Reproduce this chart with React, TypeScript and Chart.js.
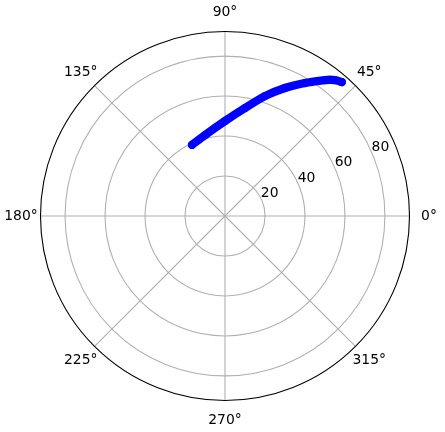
import React, { useEffect, useRef } from "react";
import { Chart, registerables } from "chart.js";

Chart.register(...registerables);

// Polar data (theta in degrees, r in data units)
const thetaDeg = [114.9, 103.9, 90.0, 79.5, 71.6, 64.9, 59.0, 53.7, 51.0, 48.9];
const rValues = [39.2, 41.7, 47.5, 54.9, 63.2, 70.7, 77.6, 84.4, 87.5, 88.9];

const radialTicks = [20, 40, 60, 80];
const angleTicks = [0, 45, 90, 135, 180, 225, 270, 315];
const angleTickLabels = ["0°", "45°", "90°", "135°", "180°", "225°", "270°", "315°"];

const R_MAX = 92.3;
const RLABEL_ANGLE = 22.5;
const FONT = '13.9px "DejaVu Sans"';

const polarGrid = {
  id: "polarGrid",
  beforeDatasetsDraw(chart: any) {
    const { ctx } = chart;
    const xs = chart.scales.x;
    const ys = chart.scales.y;
    const cx = xs.getPixelForValue(0);
    const cy = ys.getPixelForValue(0);
    const k = xs.getPixelForValue(1) - cx;
    const R = R_MAX * k;
    ctx.save();
    ctx.strokeStyle = "#b0b0b0";
    ctx.lineWidth = 1.1;
    for (const t of radialTicks) {
      ctx.beginPath();
      ctx.arc(cx, cy, t * k, 0, Math.PI * 2);
      ctx.stroke();
    }
    for (const a of angleTicks) {
      const rad = (a * Math.PI) / 180;
      ctx.beginPath();
      ctx.moveTo(cx, cy);
      ctx.lineTo(cx + R * Math.cos(rad), cy - R * Math.sin(rad));
      ctx.stroke();
    }
    ctx.restore();
  },
  afterDatasetsDraw(chart: any) {
    const { ctx } = chart;
    const xs = chart.scales.x;
    const ys = chart.scales.y;
    const cx = xs.getPixelForValue(0);
    const cy = ys.getPixelForValue(0);
    const k = xs.getPixelForValue(1) - cx;
    const R = R_MAX * k;
    ctx.save();
    ctx.strokeStyle = "#000000";
    ctx.lineWidth = 1.1;
    ctx.beginPath();
    ctx.arc(cx, cy, R, 0, Math.PI * 2);
    ctx.stroke();

    ctx.fillStyle = "#000000";
    ctx.font = FONT;
    ctx.textAlign = "center";
    ctx.textBaseline = "middle";
    const labelR = R + 19.5;
    angleTicks.forEach((a, i) => {
      const rad = (a * Math.PI) / 180;
      ctx.fillText(angleTickLabels[i], cx + labelR * Math.cos(rad), cy - labelR * Math.sin(rad) + 0.5);
    });
    const rr = (RLABEL_ANGLE * Math.PI) / 180;
    for (const t of radialTicks) {
      const px = cx + t * k * Math.cos(rr) + 7.7;
      const py = cy - t * k * Math.sin(rr) - 7.4;
      ctx.fillText(String(t), px, py);
    }
    ctx.restore();
  },
};

export default function App() {
  const ref = useRef<HTMLCanvasElement | null>(null);
  useEffect(() => {
    document.body.style.margin = "0";
    const canvas = ref.current;
    if (!canvas) return;
    const points = thetaDeg.map((t, i) => {
      const rad = (t * Math.PI) / 180;
      return { x: rValues[i] * Math.cos(rad), y: rValues[i] * Math.sin(rad) };
    });
    const chart = new Chart(canvas, {
      type: "scatter",
      data: {
        datasets: [
          {
            data: points,
            showLine: true,
            borderColor: "#0000ff",
            backgroundColor: "#0000ff",
            borderWidth: 8.3,
            borderCapStyle: "round",
            borderJoinStyle: "round",
            tension: 0.3,
            pointRadius: 4.15,
            pointBorderWidth: 0,
            pointHoverRadius: 4.15,
          } as any,
        ],
      },
      options: {
        responsive: false,
        animation: false,
        devicePixelRatio: 1,
        layout: { padding: { left: 40.5, right: 35.5, top: 31.5, bottom: 31.5 } },
        plugins: { legend: { display: false }, tooltip: { enabled: false } },
        events: [],
        scales: {
          x: { type: "linear", min: -R_MAX, max: R_MAX, display: false },
          y: { type: "linear", min: -R_MAX, max: R_MAX, display: false },
        },
      },
      plugins: [polarGrid],
    });
    return () => chart.destroy();
  }, []);
  return (
    <div style={{ width: 445, height: 432, background: "#ffffff" }}>
      <canvas ref={ref} width={445} height={432} style={{ display: "block", width: 445, height: 432 }} />
    </div>
  );
}
